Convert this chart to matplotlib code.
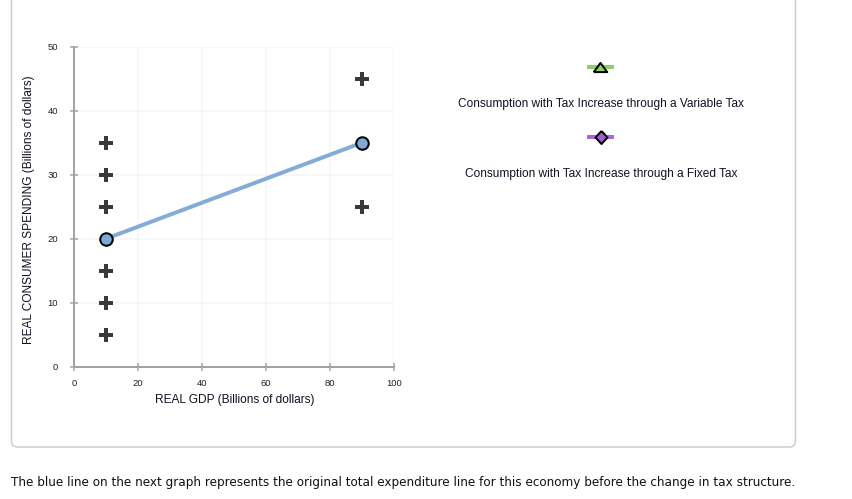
import matplotlib
matplotlib.use("Agg")
import matplotlib.pyplot as plt
from matplotlib.patches import FancyBboxPatch

# --- Data ---
line_x = [10, 90]
line_y = [20, 35]
plus_x = [10, 10, 10, 10, 10, 10, 90, 90]
plus_y = [5, 10, 15, 25, 30, 35, 25, 45]
x_ticks = [0, 20, 40, 60, 80, 100]
y_ticks = [0, 10, 20, 30, 40, 50]
grid_x = [20, 40, 60, 80, 100]
grid_y = [10, 20, 30, 40, 50]
legend_labels = ["Consumption with Tax Increase through a Variable Tax",
                 "Consumption with Tax Increase through a Fixed Tax"]
x_label = "REAL GDP (Billions of dollars)"
y_label = "REAL CONSUMER SPENDING (Billions of dollars)"
caption = ("The blue line on the next graph represents the original total "
           "expenditure line for this economy before the change in tax structure.")

W, H = 852, 499
PX = 72 / 100  # one pixel in points
TEXT = '#111122'
plt.rcParams['font.family'] = ['Liberation Sans', 'DejaVu Sans']

fig = plt.figure(figsize=(W / 100, H / 100), dpi=100, facecolor='white')

# --- Page layer, in pixels ---
page = fig.add_axes([0, 0, 1, 1], zorder=0)
page.set_xlim(0, W)
page.set_ylim(H, 0)
page.axis('off')
page.add_patch(FancyBboxPatch((11.5, -30), 784, 477, boxstyle="round,pad=0,rounding_size=6",
                              fc='white', ec='#cccccc', lw=1.5 * PX))
page.text(403, 482.5, caption, family=['DejaVu Sans'], fontsize=8.68, color='#111111',
          ha='center', va='center')

# legend keys + labels (wider triangle than the stock marker)
triangle = [(-1, -0.68), (0, 0.68), (1, -0.68), (-1, -0.68)]
diamond = [(0, 1), (0.92, 0), (0, -1), (-0.92, 0), (0, 1)]
page.plot([587, 614], [67, 67], color='#8cd068', lw=4 * PX, solid_capstyle='butt')
page.plot([600], [66.8], marker=triangle, ms=13.5 * PX, mfc='#8cd068', mec='black', mew=2 * PX,
          ls='none')
page.plot([587, 614], [136.5, 136.5], color='#a868d8', lw=4 * PX, solid_capstyle='butt')
page.plot([600.5], [136.5], marker=diamond, ms=13 * PX, mfc='#a45fcf', mec='black', mew=2 * PX,
          ls='none')
page.text(601, 103.5, legend_labels[0], fontsize=8.6, color=TEXT, ha='center', va='center')
page.text(601, 173.5, legend_labels[1], fontsize=8.6, color=TEXT, ha='center', va='center')

# --- Chart ---
left, right, top, bottom = 74, 394, 46.7, 366.7
ax = fig.add_axes([left / W, 1 - bottom / H, (right - left) / W, (bottom - top) / H], zorder=1)
ax.patch.set_alpha(0)
ax.set_xlim(0, 100)
ax.set_ylim(0, 50)

for v in grid_x:
    ax.axvline(v, color='#f5f5f5', lw=1.5 * PX, zorder=1)
for v in grid_y:
    ax.axhline(v, color='#f5f5f5', lw=1.5 * PX, zorder=1)

for s in ['top', 'right']:
    ax.spines[s].set_visible(False)
for s in ['left', 'bottom']:
    ax.spines[s].set_color('#a3a3a3')
    ax.spines[s].set_linewidth(2 * PX)

ax.set_xticks(x_ticks)
ax.set_yticks(y_ticks)
ax.tick_params(axis='both', direction='inout', length=8 * PX, width=1.5 * PX, color='#a3a3a3',
               labelsize=6.8, labelcolor='#222222')
ax.tick_params(axis='x', pad=6)
ax.tick_params(axis='y', pad=8.5)

ax.plot(plus_x, plus_y, ls='none', marker='+', ms=14 * PX, mew=4 * PX, color='#3a3a3a',
        clip_on=False, zorder=3)
ax.plot(line_x, line_y, color='#85acd5', lw=4 * PX, solid_capstyle='butt', zorder=3)
ax.plot(line_x, line_y, ls='none', marker='o', ms=12.5 * PX, mfc='#7fa9d3', mec='black',
        mew=2 * PX, clip_on=False, zorder=4)

page.text(234.5, 400, x_label, fontsize=8.6, color=TEXT, ha='center', va='center')
page.text(29, 210, y_label, fontsize=8.6, color=TEXT, ha='center', va='center', rotation=90)

fig.savefig("out.png", dpi=100)
